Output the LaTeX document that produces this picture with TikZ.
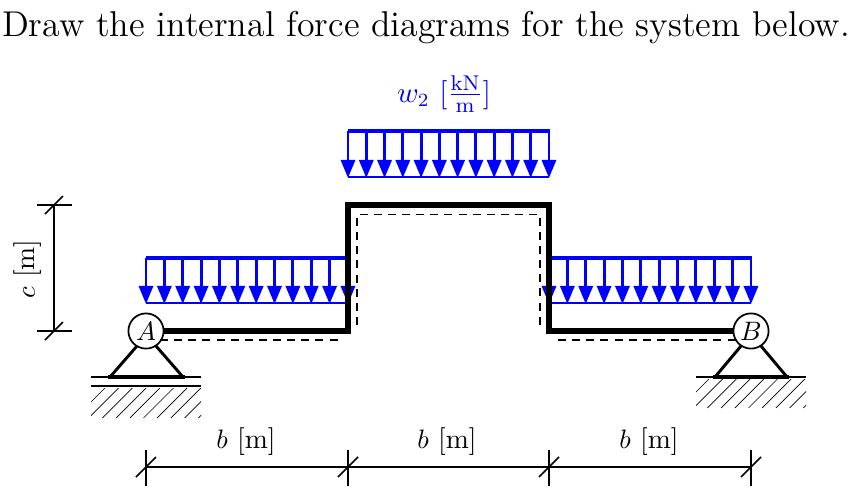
\documentclass[tikz,border=0pt]{standalone}
\usepackage{amsmath}
\usetikzlibrary{arrows.meta}
\definecolor{loadblue}{HTML}{0000FF}
\tikzset{
  frameline/.style={line width=2.4pt, line cap=butt, line join=miter},
  fibreline/.style={line width=0.6pt, dash pattern=on 3pt off 2.3pt},
  supportline/.style={line width=1.1pt},
  dimline/.style={line width=0.6pt},
  hatchline/.style={line width=0.25pt},
  loadrail/.style={loadblue, line width=1.15pt},
  loadbase/.style={loadblue, line width=0.6pt},
  loadarrow/.style={loadblue, line width=1.1pt, -{Triangle[length=6.8pt,width=5.3pt]}},
  hinge/.style={circle, draw, fill=white, line width=0.65pt, inner sep=0pt, minimum size=13.2pt},
  dimlabel/.style={font=\fontsize{10.4}{12}\selectfont}
}
\begin{document}
\begin{tikzpicture}[x=0.375pt, y=-0.375pt]
           \useasboundingbox (0,0) rectangle (862,492);

           % Title
           \node (title) at (426,28) {\fontsize{13.45}{16}\selectfont Draw the internal force diagrams for the system below.};

           % Load on the left beam
           \draw[loadbase] (146,303)--(348,303);
           \foreach \x in {0,...,11} {
             \draw[loadarrow] (146+18.36*\x,258)--(146+18.36*\x,304);
           }
           \draw[loadrail] (145.5,258)--(348.5,258);

           % Load on the right beam
           \draw[loadbase] (549,303)--(751,303);
           \foreach \x in {0,...,11} {
             \draw[loadarrow] (549+18.36*\x,258)--(549+18.36*\x,304);
           }
           \draw[loadrail] (548.5,258)--(751.5,258);

           % Load on the top beam
           \draw[loadbase] (348,177)--(549,177);
           \foreach \x in {0,...,11} {
             \draw[loadarrow] (348+18.27*\x,131)--(348+18.27*\x,178);
           }
           \draw[loadrail] (347.5,131)--(549.5,131);
           \node[loadblue, font=\fontsize{10.6}{13}\selectfont] (loadlabel) at (444,94) {$w_2\ [\frac{\mbox{\footnotesize kN}}{\mbox{\footnotesize m}}]$};

           % Frame
           \draw[frameline] (146,331)--(348,331)--(348,205)--(549,205)--(549,331)--(751,331);

           % Dashed fibres
           \draw[fibreline] (160,340)--(340,340);
           \draw[fibreline] (357,325)--(357,214.5)--(540,214.5)--(540,325);
           \draw[fibreline] (558,340)--(738,340);

           % Support A
           \draw[supportline] (137,346)--(110,377);
           \draw[supportline] (156,346)--(183,377);
           \draw[line width=0.95pt] (91,377)--(201,377);
           \draw[line width=1.4pt] (108,377)--(185,377);
           \draw[line width=0.95pt] (91,386)--(201,386);
           \begin{scope}
             \clip (91,388) rectangle (201,418);
             \foreach \x in {0,...,10} {
               \draw[hatchline] (75+13.7*\x,418)--(75+13.7*\x+30,388);
             }
           \end{scope}
           \node[hinge, dimlabel] (hingeA) at (146,331) {$A$};

           % Support B
           \draw[supportline] (741,346)--(715,377);
           \draw[supportline] (761,346)--(787,377);
           \draw[line width=0.95pt] (696,377)--(806,377);
           \draw[line width=1.4pt] (713,377)--(789,377);
           \begin{scope}
             \clip (696,379) rectangle (806,408);
             \foreach \x in {0,...,10} {
               \draw[hatchline] (680+13.7*\x,408)--(680+13.7*\x+29,379);
             }
           \end{scope}
           \node[hinge, dimlabel] (hingeB) at (751,331) {$B$};

           % Height dimension
           \draw[dimline] (54,205)--(54,331);
           \draw[dimline] (37,205)--(72,205);
           \draw[dimline] (37,331)--(72,331);
           \draw[dimline] (45,214)--(63,196);
           \draw[dimline] (45,340)--(63,322);
           \node[rotate=90, dimlabel] (labelc) at (28,269) {$c$ [m]};

           % Width dimensions
           \draw[dimline] (146,467)--(751,467);
           \foreach \x in {146,348,549,751} {
             \draw[dimline] (\x,450)--(\x,486);
             \draw[dimline] (\x-10,477)--(\x+10,457);
           }
           \node[dimlabel] (labelb1) at (246,442) {$b$ [m]};
           \node[dimlabel] (labelb2) at (447,442) {$b$ [m]};
           \node[dimlabel] (labelb3) at (649,442) {$b$ [m]};

\end{tikzpicture}
\end{document}
